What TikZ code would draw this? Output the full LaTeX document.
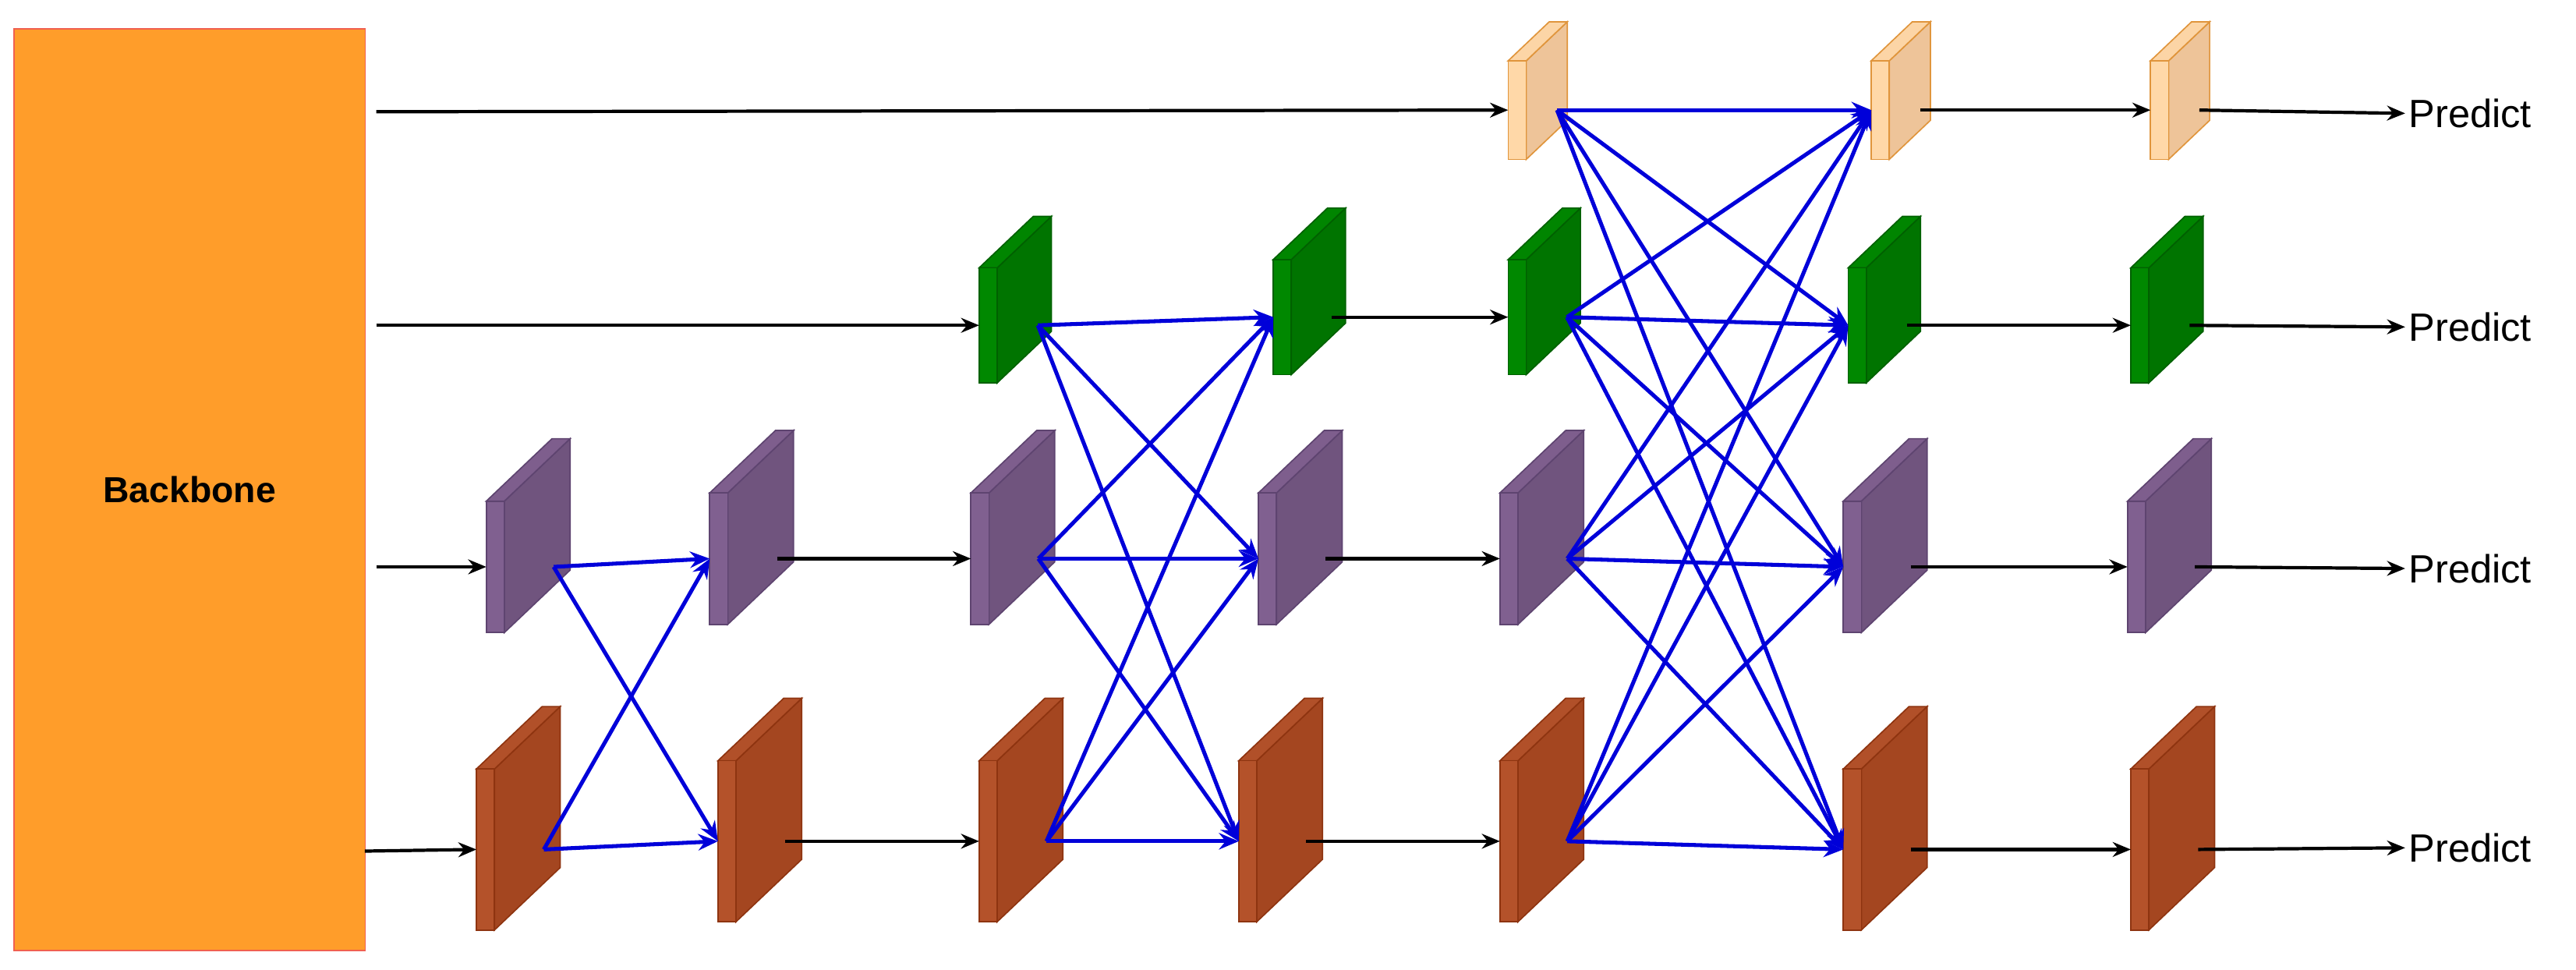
\documentclass[tikz,border=0pt]{standalone}
\usepackage{fontspec}
\setmainfont{Liberation Sans}
\usetikzlibrary{arrows.meta}
\definecolor{bbfill}{HTML}{FF9D2A}
\definecolor{bbline}{HTML}{F06050}
\definecolor{puF}{HTML}{806090}
\definecolor{puS}{HTML}{70547E}
\definecolor{puL}{HTML}{5E4470}
\definecolor{brF}{HTML}{B4522A}
\definecolor{brS}{HTML}{A44620}
\definecolor{brL}{HTML}{8E3410}
\definecolor{grF}{HTML}{008800}
\definecolor{grS}{HTML}{007400}
\definecolor{grL}{HTML}{006000}
\definecolor{orF}{HTML}{FFD8A8}
\definecolor{orS}{HTML}{EEC499}
\definecolor{orL}{HTML}{E0953C}
\tikzset{
  blackarrow/.style={draw=black,line width=2pt,-{Stealth[length=11pt,width=9pt]}},
  bluearrow/.style={draw=blue!85!black,line width=2.4pt,-{Stealth[length=12pt,width=10pt,inset=4pt]}},
  lbl/.style={font=\fontsize{24}{26}\selectfont,anchor=west,inner sep=2pt},
}
% \blk{name}{x}{yc}{h}{d}{front}{side}{line}
\newcommand\blk[8]{%
  \fill[#7,draw=#8,line width=0.8pt] ({#2+11},{#3-#4/2}) -- ({#2+11},{#3+#4/2}) -- ({#2+11+#5},{#3+#4/2+0.95*#5}) -- ({#2+11+#5},{#3-#4/2+0.95*#5}) -- cycle;
  \fill[#6!85!#7,draw=#8,line width=0.8pt] ({#2},{#3+#4/2}) -- ({#2+#5},{#3+#4/2+0.95*#5}) -- ({#2+11+#5},{#3+#4/2+0.95*#5}) -- ({#2+11},{#3+#4/2}) -- cycle;
  \fill[#6,draw=#8,line width=0.8pt] ({#2},{#3-#4/2}) rectangle ({#2+11},{#3+#4/2});
  \coordinate (#1-in) at ({#2},{#3});
  \coordinate (#1-out) at ({#2+11+0.75*#5},{#3});
}
\newcommand\orb[3]{\blk{#1}{#2}{#3}{60}{25}{orF}{orS}{orL}}
\newcommand\grb[3]{\blk{#1}{#2}{#3}{70}{33}{grF}{grS}{grL}}
\newcommand\pub[3]{\blk{#1}{#2}{#3}{80}{40}{puF}{puS}{puL}}
\newcommand\brb[3]{\blk{#1}{#2}{#3}{98}{40}{brF}{brS}{brL}}
\begin{document}
\begin{tikzpicture}[x=1pt,y=1pt]
\useasboundingbox (0,0) rectangle (1568,-590);
\node[draw=bbline,fill=bbfill,line width=0.8pt,minimum width=214pt,minimum height=561pt,inner sep=0pt,anchor=north west,font=\bfseries\fontsize{22}{24}\selectfont] (bb) at (8,-17) {Backbone};
\coordinate (bbO) at (229,-68);
\coordinate (bbG) at (229,-198);
\coordinate (bbP) at (229,-345);
\coordinate (bbB) at (222,-518);
% column 1
\pub{p1}{296}{-345}
\brb{b1}{290}{-517}
% column 2
\pub{p2}{432}{-340}
\brb{b2}{437}{-512}
% column 3
\grb{g3}{596}{-198}
\pub{p3}{591}{-340}
\brb{b3}{596}{-512}
% column 4
\grb{g4}{775}{-193}
\pub{p4}{766}{-340}
\brb{b4}{754}{-512}
% column 5
\orb{o5}{918}{-67}
\grb{g5}{918}{-193}
\pub{p5}{913}{-340}
\brb{b5}{913}{-512}
% column 6
\orb{o6}{1139}{-67}
\grb{g6}{1125}{-198}
\pub{p6}{1122}{-345}
\brb{b6}{1122}{-517}
% column 7
\orb{o7}{1309}{-67}
\grb{g7}{1297}{-198}
\pub{p7}{1295}{-345}
\brb{b7}{1297}{-517}
% predict labels
\node[lbl] (prO) at (1464,-69) {Predict};
\node[lbl] (prG) at (1464,-199) {Predict};
\node[lbl] (prP) at (1464,-346) {Predict};
\node[lbl] (prB) at (1464,-516) {Predict};
% black arrows
\draw[blackarrow] (bbO) -- (o5-in);
\draw[blackarrow] (o6-out) -- (o7-in);
\draw[blackarrow] (o7-out) -- (prO.west);
\draw[blackarrow] (bbG) -- (g3-in);
\draw[blackarrow] (g4-out) -- (g5-in);
\draw[blackarrow] (g6-out) -- (g7-in);
\draw[blackarrow] (g7-out) -- (prG.west);
\draw[blackarrow] (bbP) -- (p1-in);
\draw[blackarrow] (p2-out) -- (p3-in);
\draw[blackarrow] (p4-out) -- (p5-in);
\draw[blackarrow] (p6-out) -- (p7-in);
\draw[blackarrow] (p7-out) -- (prP.west);
\draw[blackarrow] (bbB) -- (b1-in);
\draw[blackarrow] (b2-out) -- (b3-in);
\draw[blackarrow] (b4-out) -- (b5-in);
\draw[blackarrow] (b6-out) -- (b7-in);
\draw[blackarrow] (b7-out) -- (prB.west);
% blue arrows
\foreach \s in {p,b} \foreach \t in {p,b} \draw[bluearrow] (\s1-out) -- (\t2-in);
\foreach \s in {g,p,b} \foreach \t in {g,p,b} \draw[bluearrow] (\s3-out) -- (\t4-in);
\foreach \s in {o,g,p,b} \foreach \t in {o,g,p,b} \draw[bluearrow] (\s5-out) -- (\t6-in);
\end{tikzpicture}
\end{document}
